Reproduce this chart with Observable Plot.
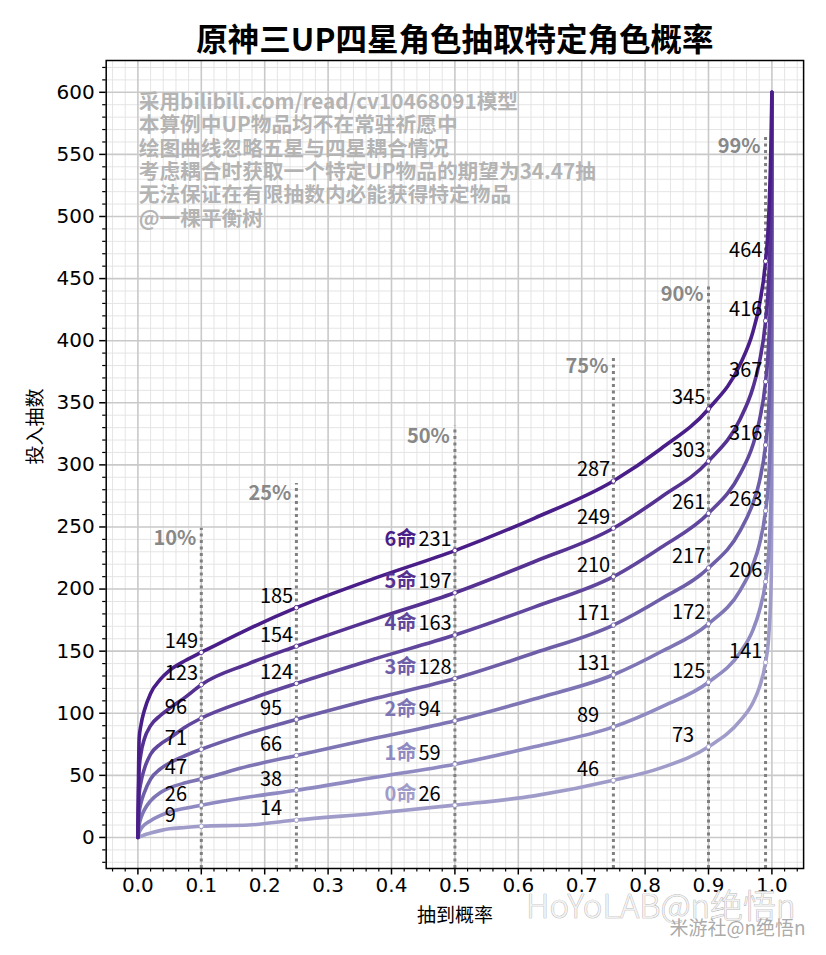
<!DOCTYPE html>
<html>
<head>
<meta charset="utf-8">
<script src="https://cdn.jsdelivr.net/npm/d3@7"></script>
<script src="https://cdn.jsdelivr.net/npm/@observablehq/plot@0.6"></script>
<style>
  html, body { margin: 0; padding: 0; background: #ffffff; }
</style>
</head>
<body>
<div id="chart"></div>
<script>
// ---------- data ----------
const constellations = ["0命", "1命", "2命", "3命", "4命", "5命", "6命"];

// probability grid shared by the curves (x)
const probs = [0, 0.002, 0.005, 0.01, 0.02, 0.035, 0.05, 0.075, 0.1, 0.175, 0.25, 0.375, 0.5,
               0.625, 0.75, 0.825, 0.9, 0.95, 0.97, 0.98, 0.99, 0.995, 0.999, 0.9999, 1];

// pulls needed (y) for each constellation at the probabilities above
const pulls0 = [0, 0.5, 1, 2, 3.5, 5.5, 7, 8, 9, 10, 14, 19.5, 26, 33.5, 46, 56, 73, 94, 108.5, 120.5, 141, 162, 210, 275, 600];
const pulls1 = [0, 4, 7, 10, 13.5, 17.5, 20.5, 23.5, 26, 32.5, 38, 48.5, 59, 73, 89, 105, 125, 149, 167, 182, 206, 230, 285, 360, 600];
const pulls2 = [0, 10, 16, 22, 29.5, 36, 40, 44, 47, 57.5, 66, 80, 94, 111.5, 131, 149.5, 172, 199, 219.5, 235.5, 263, 290, 350, 435, 600];
const pulls3 = [0, 20, 28, 36, 47, 55, 60, 66, 71, 84, 95, 112, 128, 148.5, 171, 192, 217, 247, 269, 286, 316, 346, 410, 500, 600];
const pulls4 = [0, 35, 45, 55, 67, 75, 80, 89, 96, 111, 124, 144, 163, 185.5, 210, 233.5, 261, 293, 316, 335, 367, 399, 465, 560, 600];
const pulls5 = [0, 55, 68, 79, 90, 98, 104, 113, 123, 140, 154, 176, 197, 222, 249, 274, 303, 337, 362, 382, 416, 450, 520, 590, 600];
const pulls6 = [0, 80, 91, 102, 116, 127, 134.5, 142.5, 149, 168, 185, 209, 231, 257, 287, 313, 345, 381, 407, 428, 464, 500, 570, 598, 600];

// labelled percentiles
const markProbs  = [0.1, 0.25, 0.5, 0.75, 0.9, 0.99];
const markLabels = ["10%", "25%", "50%", "75%", "90%", "99%"];
const marks0 = [9, 14, 26, 46, 73, 141];
const marks1 = [26, 38, 59, 89, 125, 206];
const marks2 = [47, 66, 94, 131, 172, 263];
const marks3 = [71, 95, 128, 171, 217, 316];
const marks4 = [96, 124, 163, 210, 261, 367];
const marks5 = [123, 154, 197, 249, 303, 416];
const marks6 = [149, 185, 231, 287, 345, 464];

// axis ticks
const xTicks = [0, 0.1, 0.2, 0.3, 0.4, 0.5, 0.6, 0.7, 0.8, 0.9, 1.0];
const yTicks = [0, 50, 100, 150, 200, 250, 300, 350, 400, 450, 500, 550, 600];

// texts
const titleText = "原神三UP四星角色抽取特定角色概率";
const xLabel = "抽到概率";
const yLabel = "投入抽数";
const notes = [
  "采用bilibili.com/read/cv10468091模型",
  "本算例中UP物品均不在常驻祈愿中",
  "绘图曲线忽略五星与四星耦合情况",
  "考虑耦合时获取一个特定UP物品的期望为34.47抽",
  "无法保证在有限抽数内必能获得特定物品",
  "@一棵平衡树"
];
const watermark1 = "HoYoLAB@n绝悟n";
const watermark2 = "米游社@n绝悟n";

// ---------- styles ----------
const lineColors = ["#a09cca", "#8f8ac1", "#7e75b5", "#6e5ea8", "#60469c", "#553192", "#4a1e88"];
const cjk = "Noto Sans CJK SC";
const xDomain = [-0.05, 1.05];
const yDomain = [-25, 625.6];

// ---------- tables built from the arrays ----------
const allPulls = [pulls0, pulls1, pulls2, pulls3, pulls4, pulls5, pulls6];
const allMarks = [marks0, marks1, marks2, marks3, marks4, marks5, marks6];

const curveRows = allPulls.flatMap((arr, i) =>
  arr.map((v, j) => ({name: constellations[i], p: probs[j], v})));
const markRows = allMarks.flatMap((arr, i) =>
  arr.map((v, j) => ({name: constellations[i], p: markProbs[j], v})));
const nameRows = allMarks.map((arr, i) => ({name: constellations[i], p: 0.5, v: arr[markProbs.indexOf(0.5)]}));
const ruleRows = markProbs.map((p, j) => ({
  p, label: markLabels[j], top: d3.max(allMarks, arr => arr[j]) + 100
}));

const minorX = d3.range(-4, 106, 2).map(d => d / 100).filter(d => !xTicks.some(t => Math.abs(t - d) < 1e-9));
const minorY = d3.range(-20, 630, 10).filter(d => d % 50 !== 0);

const chart = Plot.plot({
  width: 826,
  height: 955,
  marginLeft: 105.7,
  marginRight: 22.9,
  marginTop: 60,
  marginBottom: 87,
  x: {domain: xDomain},
  y: {domain: yDomain},
  color: {domain: constellations, range: lineColors},
  style: {fontFamily: "DejaVu Sans", background: "#ffffff", color: "#000"},
  marks: [
    // grids
    Plot.gridX(minorX, {stroke: "#e2e2e2", strokeOpacity: 1, strokeWidth: 0.9}),
    Plot.gridY(minorY, {stroke: "#e2e2e2", strokeOpacity: 1, strokeWidth: 0.9}),
    Plot.gridX(xTicks, {stroke: "#c9c9c9", strokeOpacity: 1, strokeWidth: 1.6}),
    Plot.gridY(yTicks, {stroke: "#c9c9c9", strokeOpacity: 1, strokeWidth: 1.6}),
    // dotted percentile rules
    Plot.ruleX(ruleRows, {x: "p", y1: yDomain[0], y2: "top", stroke: "#808080", strokeWidth: 3, strokeDasharray: "3,3.5"}),
    // curves
    Plot.line(curveRows, {x: "p", y: "v", z: "name", stroke: "name", strokeWidth: 3.6, curve: "monotone-x"}),
    // intersection dots
    Plot.dot(markRows, {x: "p", y: "v", r: 2.2, fill: "white", stroke: "name", strokeWidth: 0.8}),
    // value labels
    Plot.text(markRows, {x: "p", y: "v", text: d => String(d.v), textAnchor: "start", dx: -36.5, dy: -11,
      fontSize: 20, fontFamily: cjk, fill: "#000"}),
    // constellation names at 50%
    Plot.text(nameRows, {x: "p", y: "v", text: "name", textAnchor: "end", dx: -38.5, dy: -11,
      fontSize: 20, fontFamily: cjk, fontWeight: "bold", fill: "name"}),
    // percent labels
    Plot.text(ruleRows, {x: "p", y: "top", text: "label", textAnchor: "end", dx: -5, dy: 10,
      fontSize: 20, fontFamily: cjk, fontWeight: "bold", fill: "#888888"}),
    // notes
    Plot.text([notes.join("\n")], {frameAnchor: "top-left", dx: 32.5, dy: 32, textAnchor: "start", lineAnchor: "top",
      lineHeight: 23.3 / 20.7, fontSize: 20.7, fontFamily: cjk, fontWeight: "bold", fill: "#b4b4b4"}),
    // frame
    Plot.frame({stroke: "#000", strokeWidth: 1.5}),
    // axes
    Plot.axisX(minorX, {tickSize: 3.5, strokeWidth: 1.2, tickFormat: () => "", label: null}),
    Plot.axisY(minorY, {tickSize: 3.5, strokeWidth: 1.2, tickFormat: () => "", label: null}),
    Plot.axisX(xTicks, {tickSize: 6.5, strokeWidth: 1.5, tickPadding: 3, tickFormat: d3.format(".1f"),
      fontSize: 20, fontFamily: "DejaVu Sans", label: null}),
    Plot.axisY(yTicks, {tickSize: 6.5, strokeWidth: 1.5, tickPadding: 5, tickFormat: d => String(d),
      fontSize: 20, fontFamily: "DejaVu Sans", label: null}),
    // title & axis labels
    Plot.text([titleText], {frameAnchor: "top", dy: -32, fontSize: 31.5, fontWeight: "bold", fontFamily: cjk, fill: "#000"}),
    Plot.text([xLabel], {frameAnchor: "bottom", dy: 53, fontSize: 19, fontFamily: cjk, fill: "#000"}),
    Plot.text([yLabel], {frameAnchor: "left", dx: -70, rotate: -90, fontSize: 19, fontFamily: cjk, fill: "#000"}),
    // watermarks
    Plot.text([watermark1], {frameAnchor: "bottom-right", dx: -8, dy: 49, textAnchor: "end", fontSize: 33,
      fontFamily: cjk, fontWeight: 300, fill: "#f4f4f4", fillOpacity: 0.85, stroke: "#a8a8a8", strokeWidth: 0.7}),
    Plot.text([watermark2], {frameAnchor: "bottom-right", dx: 2, dy: 66, textAnchor: "end", fontSize: 19,
      fontFamily: cjk, fill: "#a0a0a0", fillOpacity: 0.9})
  ]
});

document.getElementById("chart").appendChild(chart);
</script>
</body>
</html>
